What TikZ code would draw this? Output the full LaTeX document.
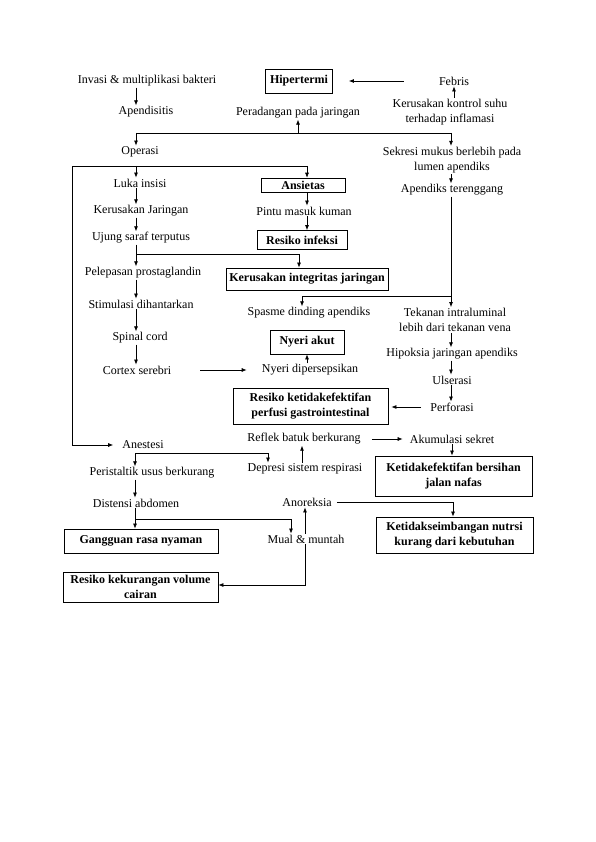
\documentclass[tikz,border=0pt]{standalone}
\usepackage{fontspec}
\setmainfont{Liberation Serif}
\usetikzlibrary{arrows.meta}
\begin{document}
\begin{tikzpicture}[x=1pt,y=-1pt,
  txt/.style={font=\fontsize{12}{15}\selectfont, inner sep=1pt, align=center},
  box/.style={draw, line width=0.8pt, font=\bfseries\fontsize{12}{15}\selectfont, align=center, inner sep=0pt},
  ln/.style={line width=0.7pt},
  arr/.style={ln, -{Latex[length=5pt,width=4pt]}}]
\useasboundingbox (0,0) rectangle (595,842);
\fill[white] (0,0) rectangle (595,842);

% column coordinates
\coordinate (lx) at (136,0);
\coordinate (rx) at (451,0);

% nodes
\node[txt] (invasi) at (147,81) {Invasi \& multiplikasi bakteri};
\node[txt] (apen) at (146,112) {Apendisitis};
\node[box, minimum width=67pt, minimum height=24pt] (hip) at (299,81) {Hipertermi};
\node[txt] (febris) at (454,81) {Febris};
\node[txt] (kontrol) at (450,112) {Kerusakan kontrol suhu\\terhadap inflamasi};
\node[txt] (perad) at (298,113) {Peradangan pada jaringan};
\node[txt] (operasi) at (140,152) {Operasi};
\node[txt] (sekresi) at (452,160) {Sekresi mukus berlebih pada\\lumen apendiks};
\node[txt] (luka) at (140,183) {Luka insisi};
\node[box, line width=0.5pt, minimum width=84pt, minimum height=14pt] (ansietas) at (303,185) {Ansietas};
\node[txt] (apter) at (452,190) {Apendiks terenggang};
\node[txt] (kerjar) at (141,211) {Kerusakan Jaringan};
\node[txt] (pintu) at (304,211) {Pintu masuk kuman};
\node[txt] (ujung) at (141,238) {Ujung saraf terputus};
\node[box, minimum width=90pt, minimum height=19pt] (resinf) at (302,240) {Resiko infeksi};
\node[txt] (pelepasan) at (143,273) {Pelepasan prostaglandin};
\node[box, minimum width=162pt, minimum height=22pt] (kerint) at (307,279) {Kerusakan integritas jaringan};
\node[txt] (stim) at (141,304) {Stimulasi dihantarkan};
\node[txt] (spasme) at (309,313) {Spasme dinding apendiks};
\node[txt] (tekanan) at (455,320) {Tekanan intraluminal\\lebih dari tekanan vena};
\node[txt] (spinal) at (140,338) {Spinal cord};
\node[box, minimum width=74pt, minimum height=24pt] (nyeriakut) at (307,342) {Nyeri akut};
\node[txt] (hipoksia) at (452,354) {Hipoksia jaringan apendiks};
\node[txt] (cortex) at (137,370) {Cortex serebri};
\node[txt] (nyeridip) at (310,370) {Nyeri dipersepsikan};
\node[txt] (ulserasi) at (452,380) {Ulserasi};
\node[box, minimum width=155pt, minimum height=36pt] (resper) at (310.5,406) {Resiko ketidakefektifan\\perfusi gastrointestinal};
\node[txt] (perforasi) at (452,407) {Perforasi};
\node[txt] (anestesi) at (143,445) {Anestesi};
\node[txt] (reflek) at (304,439) {Reflek batuk berkurang};
\node[txt] (akum) at (452,439) {Akumulasi sekret};
\node[txt] (peristaltik) at (152,473) {Peristaltik usus berkurang};
\node[txt] (depresi) at (305,469) {Depresi sistem respirasi};
\node[box, minimum width=157pt, minimum height=40pt] (ketbers) at (453.5,476) {Ketidakefektifan bersihan\\jalan nafas};
\node[txt] (distensi) at (136,503) {Distensi abdomen};
\node[txt] (anoreksia) at (307,502) {Anoreksia};
\node[box, minimum width=154pt, minimum height=24pt] (gangguan) at (141,541) {Gangguan rasa nyaman};
\node[txt] (mual) at (306,539) {Mual \& muntah};
\node[box, minimum width=157pt, minimum height=36pt] (ketseim) at (454.5,535) {Ketidakseimbangan nutrsi\\kurang dari kebutuhan};
\node[box, minimum width=155pt, minimum height=30pt] (reskek) at (140.5,587) {Resiko kekurangan volume\\cairan};

% junction coordinates
\coordinate (j1) at (136,133);
\coordinate (j2) at (451,133);
\coordinate (k1) at (72,166);
\coordinate (k2) at (307,166);
\coordinate (k3) at (72,445);
\coordinate (b1) at (136,254);
\coordinate (b2) at (299,254);
\coordinate (s1) at (451,296);
\coordinate (s2) at (302,296);
\coordinate (c1) at (135,453);
\coordinate (c2) at (268,453);
\coordinate (d1) at (135,519);
\coordinate (d2) at (291,519);
\coordinate (a1) at (453,504);
\coordinate (m1) at (305,585);

% connectors
\draw[arr] (invasi.south -| lx) -- (apen.north -| lx);
\draw[arr, shorten <=34pt, shorten >=16pt] (febris.west) -- (hip.east);
\draw[arr] (kontrol.north -| febris) -- (febris.south);
\draw[ln] (j1) -- (j2);
\draw[arr] (j1) -- (operasi.north -| j1);
\draw[arr] (j2) -- (sekresi.north -| j2);
\draw[arr] (j1 -| perad) -- (perad.south);
\draw[ln] (k2) -- (k1) -- (k3);
\draw[arr] (k3) -- ([xshift=-8pt]anestesi.west);
\draw[arr] (k1 -| lx) -- (luka.north -| lx);
\draw[arr] (k2) -- (ansietas.north -| k2);
\draw[arr] (luka.south -| lx) -- (kerjar.north -| lx);
\draw[arr] (kerjar.south -| lx) -- (ujung.north -| lx);
\draw[arr] (ujung.south -| lx) -- (pelepasan.north -| lx);
\draw[arr] (b1) -- (b2) -- (kerint.north -| b2);
\draw[arr] (pelepasan.south -| lx) -- (stim.north -| lx);
\draw[arr] (stim.south -| lx) -- (spinal.north -| lx);
\draw[arr] (spinal.south -| lx) -- (cortex.north -| lx);
\draw[arr] (ansietas.south -| k2) -- (pintu.north -| k2);
\draw[arr] (pintu.south -| k2) -- (resinf.north -| k2);
\draw[arr] (sekresi.south -| rx) -- (apter.north -| rx);
\draw[arr] (apter.south -| rx) -- (tekanan.north -| rx);
\draw[arr] (s1) -- (s2) -- (spasme.north -| s2);
\draw[arr] (tekanan.south -| rx) -- (hipoksia.north -| rx);
\draw[arr] (hipoksia.south -| rx) -- (ulserasi.north -| rx);
\draw[arr] (ulserasi.south -| rx) -- (perforasi.north -| rx);
\draw[arr, shorten <=8pt, shorten >=3pt] (perforasi.west) -- (resper.east |- perforasi.west);
\draw[arr, shorten <=28pt, shorten >=14pt] (cortex.east) -- (nyeridip.west);
\draw[arr] (nyeridip.north -| nyeriakut) -- (nyeriakut.south);
\draw[arr, shorten <=10pt, shorten >=6pt] (reflek.east) -- (akum.west);
\draw[arr] (akum.south) -- (ketbers.north -| akum.south);
\draw[arr] (depresi.north -| 302,0) -- (reflek.south -| 302,0);
\draw[ln] (c1) -- (c2);
\draw[arr] (c1) -- (peristaltik.north -| c1);
\draw[arr] (c2) -- (depresi.north -| c2);
\draw[arr] (peristaltik.south -| c1) -- (distensi.north -| c1);
\draw[arr] (distensi.south -| c1) -- (gangguan.north -| c1);
\draw[arr] (d1) -- (d2) -- (mual.north -| d2);
\draw[arr] (mual.north -| m1) -- (anoreksia.south -| m1);
\draw[arr, shorten <=4pt] (anoreksia.east) -- (anoreksia.east -| a1) -- (ketseim.north -| a1);
\draw[arr] (mual.south -| m1) -- (m1) -- (reskek.east |- m1);
\end{tikzpicture}
\end{document}
